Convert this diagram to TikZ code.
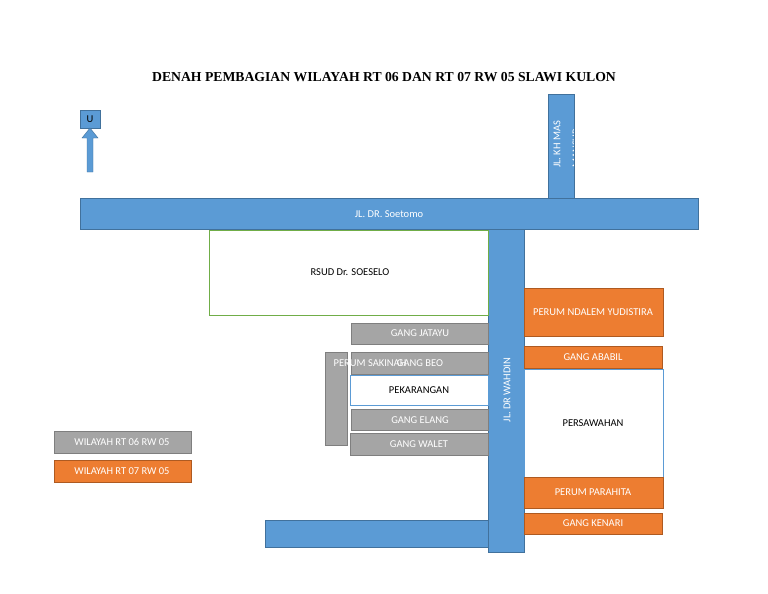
\documentclass[tikz,border=0pt]{standalone}
\usepackage{fontspec}
\setmainfont{Carlito}
\newfontfamily\titlefont{Liberation Serif}
\definecolor{roadblue}{HTML}{5B9BD5}
\definecolor{roadedge}{HTML}{41719C}
\definecolor{plotorange}{HTML}{ED7D31}
\definecolor{orangeedge}{HTML}{AE5A21}
\definecolor{lotgray}{HTML}{A5A5A5}
\definecolor{grayedge}{HTML}{7F7F7F}
\definecolor{rsudgreen}{HTML}{70AD47}
\tikzset{
  road/.style={draw=roadedge, fill=roadblue, text=white},
  gang/.style={draw=grayedge, fill=lotgray, text=white},
  perum/.style={draw=orangeedge, fill=plotorange, text=white},
  lahan/.style={draw=roadblue, fill=white, text=black},
  lbl/.style={font=\fontsize{10.5}{12}\selectfont}
}
\begin{document}
\begin{tikzpicture}[x=1pt,y=-1pt]
\useasboundingbox (0,0) rectangle (768,594);

\node[font=\titlefont\bfseries\fontsize{13.7}{16}\selectfont] (judul) at (384,77) {DENAH PEMBAGIAN WILAYAH RT 06 DAN RT 07 RW 05 SLAWI KULON};

% arah utara
\draw[road] (80,110) rectangle (100,128);
\node[lbl, text=black] (utara) at (90,119) {U};
\draw[road] (87,172) -- (87,138) -- (82,138) -- (90,128) -- (98,138) -- (93,138) -- (93,172) -- cycle;

% jalan
\draw[road] (548,94) rectangle (574,198);
\begin{scope}
\clip (548,94) rectangle (573,198);
\node[lbl, text=white, rotate=90, anchor=west, inner sep=0pt] (mas) at (557,168) {JL. KH MAS};
\node[lbl, text=white, rotate=90, anchor=west, inner sep=0pt] (mansur) at (576,168) {MANSUR};
\end{scope}
\draw[road] (80,198) rectangle (698,229);
\node[lbl, text=white] (soetomo) at (389,214) {JL. DR. Soetomo};
\draw[road] (488,229) rectangle (524,552);
\node[lbl, text=white, rotate=90] (wahdin) at (507,390) {JL. DR WAHDIN};
\draw[road] (265,520) rectangle (488,547);

% barat jalan
\draw[draw=rsudgreen, fill=white] (209,230) rectangle (488,315);
\node[lbl] (rsud) at (350,272) {RSUD Dr. SOESELO};
\draw[gang] (351,323) rectangle (488,344);
\node[lbl, text=white] (jatayu) at (420,333) {GANG JATAYU};
\draw[gang] (325,352) rectangle (347,445);
\draw[gang] (351,352) rectangle (488,374);
\node[lbl, text=white] (beo) at (420,363) {GANG BEO};
\node[lbl, text=white] (sakinah) at (370,363) {PERUM SAKINAH};
\draw[lahan] (350,375) rectangle (488,405);
\node[lbl] (pekarangan) at (419,390) {PEKARANGAN};
\draw[gang] (351,409) rectangle (488,430);
\node[lbl, text=white] (elang) at (420,420) {GANG ELANG};
\draw[gang] (350,433) rectangle (488,455);
\node[lbl, text=white] (walet) at (419,444) {GANG WALET};

% timur jalan
\draw[perum] (524,288) rectangle (663,336);
\node[lbl, text=white] (ndalem) at (593,312) {PERUM NDALEM YUDISTIRA};
\draw[perum] (524,346) rectangle (662,368);
\node[lbl, text=white] (ababil) at (593,357) {GANG ABABIL};
\draw[lahan] (524,369) rectangle (663,477);
\node[lbl] (sawah) at (593,423) {PERSAWAHAN};
\draw[perum] (524,477) rectangle (663,508);
\node[lbl, text=white] (parahita) at (593,492) {PERUM PARAHITA};
\draw[perum] (524,513) rectangle (662,534);
\node[lbl, text=white] (kenari) at (593,523) {GANG KENARI};

% keterangan
\draw[gang] (54,431) rectangle (191,453);
\node[lbl, text=white] (rt06) at (122,442) {WILAYAH RT 06 RW 05};
\draw[perum] (54,460) rectangle (191,482);
\node[lbl, text=white] (rt07) at (122,471) {WILAYAH RT 07 RW 05};
\end{tikzpicture}
\end{document}
